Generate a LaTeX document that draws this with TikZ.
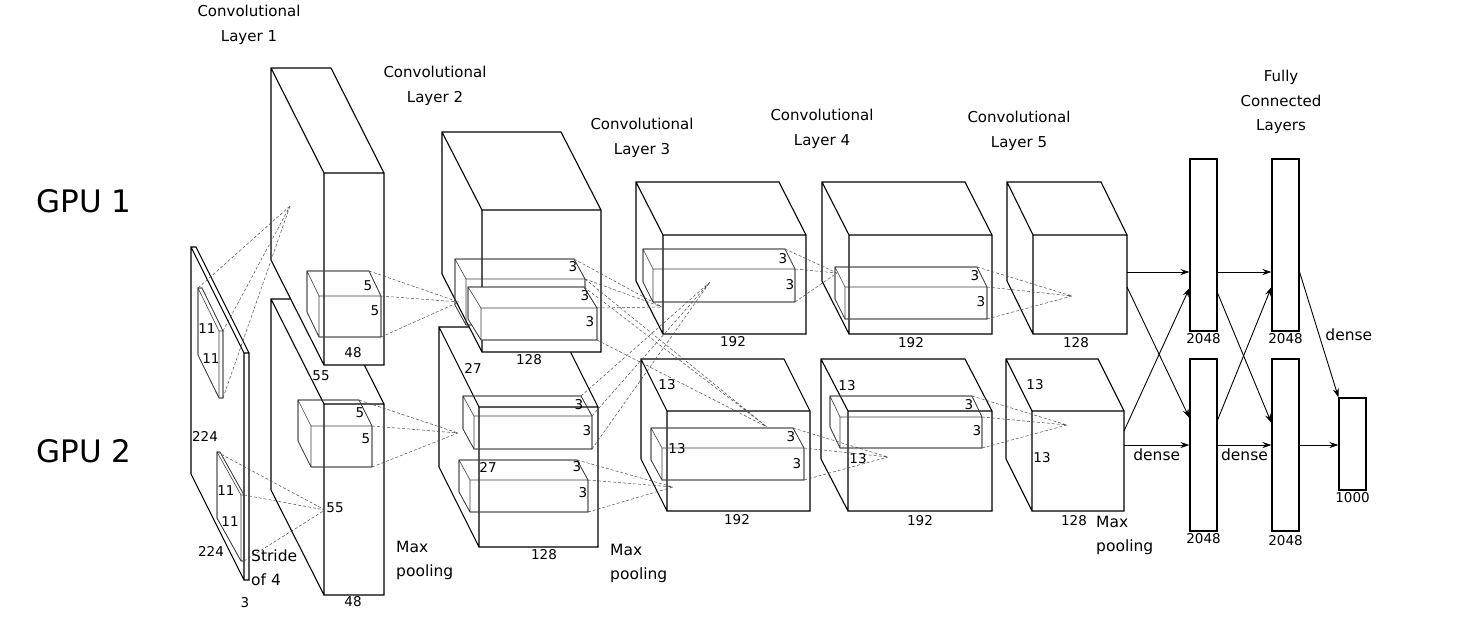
\documentclass[tikz,border=0pt]{standalone}
\usepackage{fontspec}
\setmainfont{DejaVu Sans}
\usetikzlibrary{positioning, arrows, arrows.meta}

% cuboid: name, front top-left x y, front bottom-right x y, back offset dx dy
\newcommand{\cuboid}[8][]{%
  \coordinate (#2-ftl) at (#3,#4);
  \coordinate (#2-ftr) at (#5,#4);
  \coordinate (#2-fbl) at (#3,#6);
  \coordinate (#2-fbr) at (#5,#6);
  \coordinate (#2-btl) at ([shift={(-#7,-#8)}]#3,#4);
  \coordinate (#2-btr) at ([shift={(-#7,-#8)}]#5,#4);
  \coordinate (#2-bbl) at ([shift={(-#7,-#8)}]#3,#6);
  \path[#1] (#2-fbl) -- (#2-bbl) -- (#2-btl) -- (#2-btr) -- (#2-ftr) -- (#2-fbr) -- cycle;
  \draw[#1, fill=none] (#2-ftl) rectangle (#2-fbr) (#2-ftl) -- (#2-btl)
    (#2-fbl) -- (#2-bbl) -- (#2-btl) -- (#2-btr) -- (#2-ftr);
}

\tikzset{
  big/.style={line width=1.1pt, fill=white},
  small/.style={line width=0.6pt, draw=black!75},
  conn/.style={densely dashed, line width=0.5pt, draw=black!70},
  lbl/.style={font=\fontsize{13.5}{15}\selectfont, inner sep=0pt},
  txt/.style={font=\fontsize{15.5}{24}\selectfont, align=left, anchor=west, inner sep=0pt},
  title/.style={font=\fontsize{15}{24.5}\selectfont, align=center, inner sep=0pt},
  gpu/.style={font=\fontsize{31}{34}\selectfont, inner sep=0pt},
  fc/.style={draw, line width=1.1pt, minimum width=27pt, inner sep=0pt},
  flow/.style={->, line width=0.9pt},
}

\begin{document}
\begin{tikzpicture}[x=1pt,y=-1pt,>={Stealth[length=9pt,width=6pt]}]
\useasboundingbox (0,0) rectangle (1471,616);

% titles
\node[title] (t1) at (249,25) {Convolutional\\Layer 1};
\node[title] (t2) at (435,86) {Convolutional\\Layer 2};
\node[title] (t3) at (642,138) {Convolutional\\Layer 3};
\node[title] (t4) at (822,129) {Convolutional\\Layer 4};
\node[title] (t5) at (1019,131) {Convolutional\\Layer 5};
\node[title] (tfc) at (1281,102) {Fully\\Connected\\Layers};
\node[gpu] (gpu1) at (84,201) {GPU 1};
\node[gpu] (gpu2) at (84,451) {GPU 2};

% input
\cuboid[big]{in}{244}{353}{249}{580}{53}{106}
\cuboid[small]{pin1}{219}{331}{223}{398}{21}{43}
\cuboid[small]{pin2}{241}{495}{244}{561}{24}{43}

% conv 1
\cuboid[big]{c1b}{324}{404}{384}{595}{53}{105}
\cuboid[big]{c1a}{324}{173}{384}{365}{53}{105}
\cuboid[small]{k1a}{319}{296}{381}{337}{12}{25}
\cuboid[small]{k1b}{311}{426}{372}{467}{13}{26}

% conv 2
\cuboid[big]{c2b}{479}{407}{598}{547}{40}{80}
\cuboid[big]{c2a}{482}{210}{601}{352}{40}{78}
\cuboid[small]{k2a}{466}{279}{585}{325}{11}{20}
\cuboid[small, fill=white]{k2b}{481}{308}{597}{340}{13}{21}
\cuboid[small]{k2c}{474}{416}{592}{449}{11}{20}
\cuboid[small]{k2d}{470}{480}{588}{512}{11}{20}

% conv 3
\cuboid[big]{c3a}{663}{235}{806}{334}{27}{53}
\cuboid[big]{c3b}{667}{411}{810}{511}{26}{52}
\cuboid[small]{k3a}{653}{269}{795}{302}{10}{20}
\cuboid[small]{k3b}{662}{448}{804}{480}{11}{20}

% conv 4
\cuboid[big]{c4a}{849}{235}{992}{334}{27}{53}
\cuboid[big]{c4b}{848}{411}{992}{511}{27}{52}
\cuboid[small]{k4a}{845}{287}{987}{319}{10}{20}
\cuboid[small]{k4b}{840}{417}{982}{448}{10}{21}

% conv 5
\cuboid[big]{c5a}{1033}{235}{1127}{334}{26}{53}
\cuboid[big]{c5b}{1032}{411}{1124}{511}{26}{52}

% convergence points
\coordinate (p1a) at (290,206);
\coordinate (p1b) at (325,510);
\coordinate (p2a) at (459,302);
\coordinate (p2b) at (458,433);
\coordinate (p3a) at (662,307);
\coordinate (p3b) at (767,427);
\coordinate (p3c) at (710,282);
\coordinate (p3d) at (673,487);
\coordinate (p4a) at (837,273);
\coordinate (p4b) at (888,457);
\coordinate (p5a) at (1072,296);
\coordinate (p5b) at (1067,425);

% dashed connections
\draw[conn] (pin1-btl) -- (p1a) (pin1-ftr) -- (p1a) (pin1-fbr) -- (p1a);
\draw[conn] (pin2-btl) -- (p1b) (pin2-ftr) -- (p1b) (pin2-fbr) -- (p1b);
\draw[conn] (k1a-btr) -- (p2a) (k1a-ftr) -- (p2a) (k1a-fbr) -- (p2a);
\draw[conn] (k1b-btr) -- (p2b) (k1b-ftr) -- (p2b) (k1b-fbr) -- (p2b);
\draw[conn] (k2a-btr) -- (p3a) (k2a-ftr) -- (p3a) (k2b-ftr) -- (p3a);
\draw[conn] (k2b-btr) -- (p3b) (k2a-ftr) -- (p3b) (k2b-fbr) -- (p3b);
\draw[conn] (k2c-btr) -- (p3c) (k2c-ftr) -- (p3c) (k2c-fbr) -- (p3c);
\draw[conn] (k2d-btr) -- (p3d) (k2d-ftr) -- (p3d) (k2d-fbr) -- (p3d);
\draw[conn] (k3a-btr) -- (p4a) (k3a-ftr) -- (p4a) (k3a-fbr) -- (p4a);
\draw[conn] (k3b-btr) -- (p4b) (k3b-ftr) -- (p4b) (k3b-fbr) -- (p4b);
\draw[conn] (k4a-btr) -- (p5a) (k4a-ftr) -- (p5a) (k4a-fbr) -- (p5a);
\draw[conn] (k4b-btr) -- (p5b) (k4b-ftr) -- (p5b) (k4b-fbr) -- (p5b);

% size labels
\node[lbl] (l11a) at (207,329) {11};
\node[lbl] (l11b) at (211,359) {11};
\node[lbl] (l11c) at (226,491) {11};
\node[lbl] (l11d) at (230,522) {11};
\node[lbl] (l224a) at (205,436) {224};
\node[lbl] (l224b) at (211,551) {224};
\node[lbl] (l3in) at (245,603) {3};
\node[txt] (stride) at (251,568) {Stride\\of 4};
\node[lbl] (l55a) at (321,376) {55};
\node[lbl] (l55b) at (335,508) {55};
\node[lbl] (l48a) at (353,353) {48};
\node[lbl] (l48b) at (353,602) {48};
\node[lbl] (l5a) at (368,286) {5};
\node[lbl] (l5b) at (375,311) {5};
\node[lbl] (l5c) at (360,413) {5};
\node[lbl] (l5d) at (366,439) {5};
\node[txt] (mp1) at (396,560) {Max\\pooling};
\node[lbl] (l27a) at (473,368) {27};
\node[lbl] (l27b) at (488,467) {27};
\node[lbl] (l128a) at (529,360) {128};
\node[lbl] (l128b) at (544,555) {128};
\node[lbl] (l3a) at (573,267) {3};
\node[lbl] (l3b) at (585,296) {3};
\node[lbl] (l3c) at (590,322) {3};
\node[lbl] (l3d) at (579,405) {3};
\node[lbl] (l3e) at (587,431) {3};
\node[lbl] (l3f) at (577,467) {3};
\node[lbl] (l3g) at (583,493) {3};
\node[txt] (mp2) at (610,563) {Max\\pooling};
\node[lbl] (l192a) at (733,342) {192};
\node[lbl] (l192b) at (737,520) {192};
\node[lbl] (l192c) at (911,343) {192};
\node[lbl] (l192d) at (920,521) {192};
\node[lbl] (l13a) at (667,385) {13};
\node[lbl] (l13b) at (677,449) {13};
\node[lbl] (l13c) at (847,386) {13};
\node[lbl] (l13d) at (858,459) {13};
\node[lbl] (l13e) at (1035,385) {13};
\node[lbl] (l13f) at (1042,458) {13};
\node[lbl] (l3h) at (783,259) {3};
\node[lbl] (l3i) at (790,285) {3};
\node[lbl] (l3j) at (791,437) {3};
\node[lbl] (l3k) at (797,464) {3};
\node[lbl] (l3l) at (975,276) {3};
\node[lbl] (l3m) at (981,302) {3};
\node[lbl] (l3n) at (969,405) {3};
\node[lbl] (l3o) at (977,431) {3};
\node[lbl] (l128c) at (1076,343) {128};
\node[lbl] (l128d) at (1074,521) {128};
\node[txt] (mp3) at (1096,535) {Max\\pooling};

% fully connected
\node[fc, minimum height=172pt] (fc1a) at (1203.5,245) {};
\node[fc, minimum height=172pt] (fc1b) at (1203.5,445) {};
\node[fc, minimum height=172pt] (fc2a) at (1285.5,245) {};
\node[fc, minimum height=172pt] (fc2b) at (1285.5,445) {};
\node[fc, minimum height=92pt] (out) at (1352.5,444) {};
\node[lbl, below=2pt of fc1a] (n1) {2048};
\node[lbl, below=2pt of fc2a] (n2) {2048};
\node[lbl, below=2pt of fc1b] (n3) {2048};
\node[lbl, below=4pt of fc2b] (n4) {2048};
\node[lbl, below=2pt of out] (n5) {1000};

\draw[flow] (c5a-ftr |- 0,272) -- (fc1a.west |- 0,272);
\draw[flow] (c5a-ftr |- 0,287) -- (fc1b.west |- 0,418);
\draw[flow] (c5b-ftr |- 0,431) -- (fc1a.west |- 0,288);
\draw[flow] (c5b-ftr |- 0,445) -- node[txt, anchor=north, below=3pt] {dense} (fc1b.west |- 0,445);
\draw[flow] (fc1a.east |- 0,272) -- (fc2a.west |- 0,272);
\draw[flow] (fc1a.east |- 0,293) -- (fc2b.west |- 0,423);
\draw[flow] (fc1b.east |- 0,420) -- (fc2a.west |- 0,287);
\draw[flow] (fc1b.east |- 0,445) -- node[txt, anchor=north, below=3pt] {dense} (fc2b.west |- 0,445);
\draw[flow] (fc2a.east |- 0,272) -- node[txt, pos=0.5, right=6pt] {dense} (out.north west);
\draw[flow] (fc2b.east |- 0,445) -- (out.west |- 0,445);
\end{tikzpicture}
\end{document}
